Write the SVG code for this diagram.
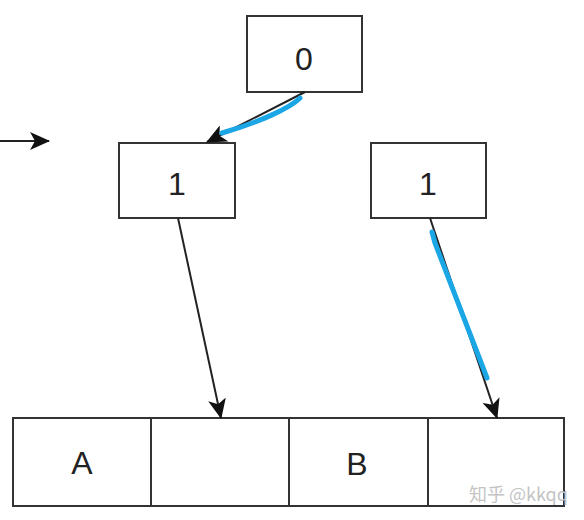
<svg xmlns="http://www.w3.org/2000/svg" width="584" height="520" viewBox="0 0 584 520">
<defs>
<style>
.box{fill:#fff;stroke:#333;stroke-width:2}
.lbl{font-family:"Liberation Sans",Arial,sans-serif;font-size:32px;fill:#222;text-anchor:middle}
.edge{stroke:#222;stroke-width:2;fill:none}
.hl{stroke:#1ba6e6;stroke-width:5;fill:none;stroke-linecap:round;stroke-linejoin:round}
.wm{font-family:"Noto Sans CJK SC","Liberation Sans",sans-serif;font-size:18px;fill:#c4c4c4}
</style>
<marker id="arr" viewBox="0 0 20 18" refX="19" refY="9" markerWidth="20" markerHeight="18" markerUnits="userSpaceOnUse" orient="auto">
<path d="M0,0 L20,9 L0,18 L5,9 Z" fill="#111"/>
</marker>
</defs>
<rect width="584" height="520" fill="#fff"/>
<g id="node-0"><rect class="box" x="247" y="16" width="115" height="76"/><text class="lbl" x="304" y="70">0</text></g>
<g id="node-1a"><rect class="box" x="119" y="143" width="116" height="75"/><text class="lbl" x="177" y="195">1</text></g>
<g id="node-1b"><rect class="box" x="371" y="143" width="115" height="75"/><text class="lbl" x="428" y="195">1</text></g>
<g id="array">
<rect class="box" x="13" y="418" width="138" height="88"/>
<rect class="box" x="151" y="418" width="138" height="88"/>
<rect class="box" x="289" y="418" width="139" height="88"/>
<rect class="box" x="428" y="418" width="136" height="88"/>
<text class="lbl" x="82" y="474">A</text>
<text class="lbl" x="357" y="475">B</text>
</g>
<g id="connectors">
<line class="edge" x1="0" y1="141" x2="49" y2="141" marker-end="url(#arr)"/>
<line class="edge" x1="305" y1="92" x2="207" y2="142" marker-end="url(#arr)"/>
<line class="edge" x1="178" y1="218" x2="221" y2="418" marker-end="url(#arr)"/>
<line class="edge" x1="430" y1="218" x2="497" y2="418" marker-end="url(#arr)"/>
<path class="hl" d="M300,98 C290,108 260,122 222,133"/>
<path class="hl" d="M432,232 L435,243 L487,378"/>
</g>
<text class="wm" x="469" y="501">知乎 @kkqq</text>
</svg>
